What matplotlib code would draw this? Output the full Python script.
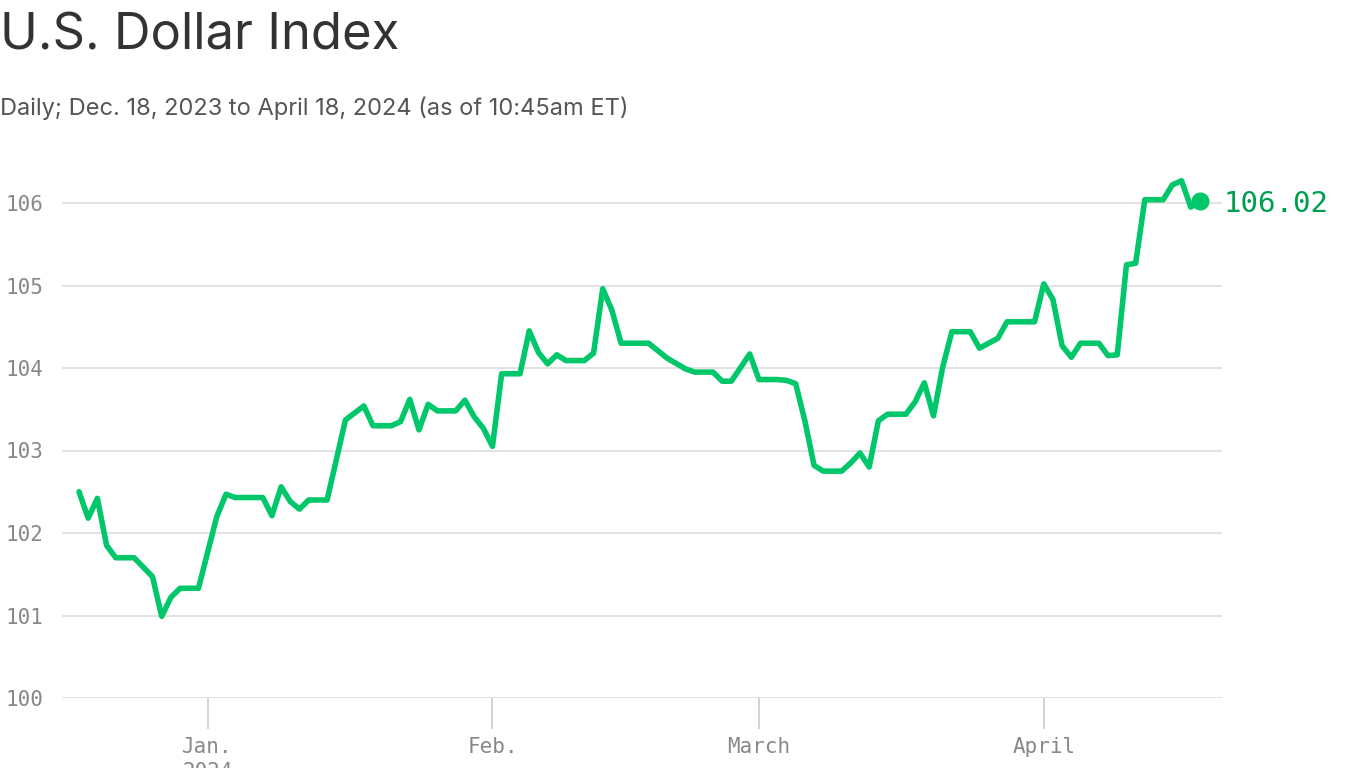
import matplotlib
matplotlib.use("Agg")
import matplotlib.pyplot as plt
import numpy as np

days = [0,1,2,3,4,6,8,9,10,11,13,15,16,17,20,21,22,23,24,25,27,29,31,32,34,35,36,37,38,39,41,42,43,44,45,46,48,49,50,51,52,53,55,56,57,58,59,62,64,66,67,69,70,71,73,74,76,77,78,79,80,81,83,84,85,86,87,88,90,91,92,93,94,95,97,98,100,101,104,105,106,107,108,109,111,112,113,114,115,116,118,119,120,121,122]
values = [102.5,102.18,102.42,101.85,101.7,101.7,101.47,100.99,101.22,101.33,101.33,102.2,102.47,102.43,102.43,102.21,102.56,102.38,102.29,102.4,102.4,103.37,103.54,103.3,103.3,103.35,103.62,103.25,103.56,103.48,103.48,103.61,103.41,103.27,103.05,103.93,103.93,104.45,104.19,104.05,104.16,104.09,104.09,104.18,104.96,104.7,104.3,104.3,104.12,103.99,103.95,103.95,103.84,103.84,104.17,103.86,103.86,103.85,103.81,103.36,102.82,102.75,102.75,102.85,102.97,102.8,103.36,103.44,103.44,103.59,103.82,103.42,104.01,104.44,104.44,104.24,104.36,104.56,104.56,105.02,104.83,104.27,104.13,104.3,104.3,104.15,104.16,105.25,105.27,106.04,106.04,106.22,106.27,105.95,106.02]
yticks = [100,101,102,103,104,105,106]
xtick_days = [14,45,74,105]
xtick_labels = ["Jan.\n2024","Feb.","March","April"]

green = "#00c76a"
W, H = 1366, 768
fig = plt.figure(figsize=(W/100, H/100), dpi=100)
ax = fig.add_axes([62/W, 1-698/H, (1222-62)/W, (698-160)/H])
ax.set_ylim(100, 106+43/82.5)
ax.set_xlim(-1.85, 124.4)
for t in yticks:
    ax.axhline(t, color="#dddddd", lw=1.2, zorder=0)
ax.plot(days, values, color=green, lw=4, solid_joinstyle="round", solid_capstyle="round", zorder=3)
ax.plot(days[-1], values[-1], "o", color=green, ms=12, zorder=4)
ax.annotate(f"{values[-1]:.2f}", (days[-1], values[-1]), xytext=(17, -2), textcoords="offset points",
            va="center", ha="left", color="#009e4f", fontsize=21, family="DejaVu Sans Mono", annotation_clip=False)
for s in ax.spines.values():
    s.set_visible(False)
ax.set_yticks([])
for t in yticks:
    ax.annotate(str(t), (0, t), xycoords=("figure pixels", "data"), xytext=(5, -2), textcoords="offset pixels",
                va="center", ha="left", color="#888888", fontsize=15, family="DejaVu Sans Mono", annotation_clip=False)
ax.set_xticks(xtick_days)
ax.set_xticklabels(xtick_labels, family="DejaVu Sans Mono", fontsize=15, color="#888888", linespacing=1.3)
ax.tick_params(axis="x", length=22, width=1.2, color="#cccccc", pad=6)
fig.text(0/W, 1-36/H, "U.S. Dollar Index", fontsize=36.5, color="#333333", va="center", family="Inter")
fig.text(0/W, 1-108/H, "Daily; Dec. 18, 2023 to April 18, 2024 (as of 10:45am ET)", fontsize=17, color="#555555", va="center", family="Inter")
fig.savefig("out.png", dpi=100)
